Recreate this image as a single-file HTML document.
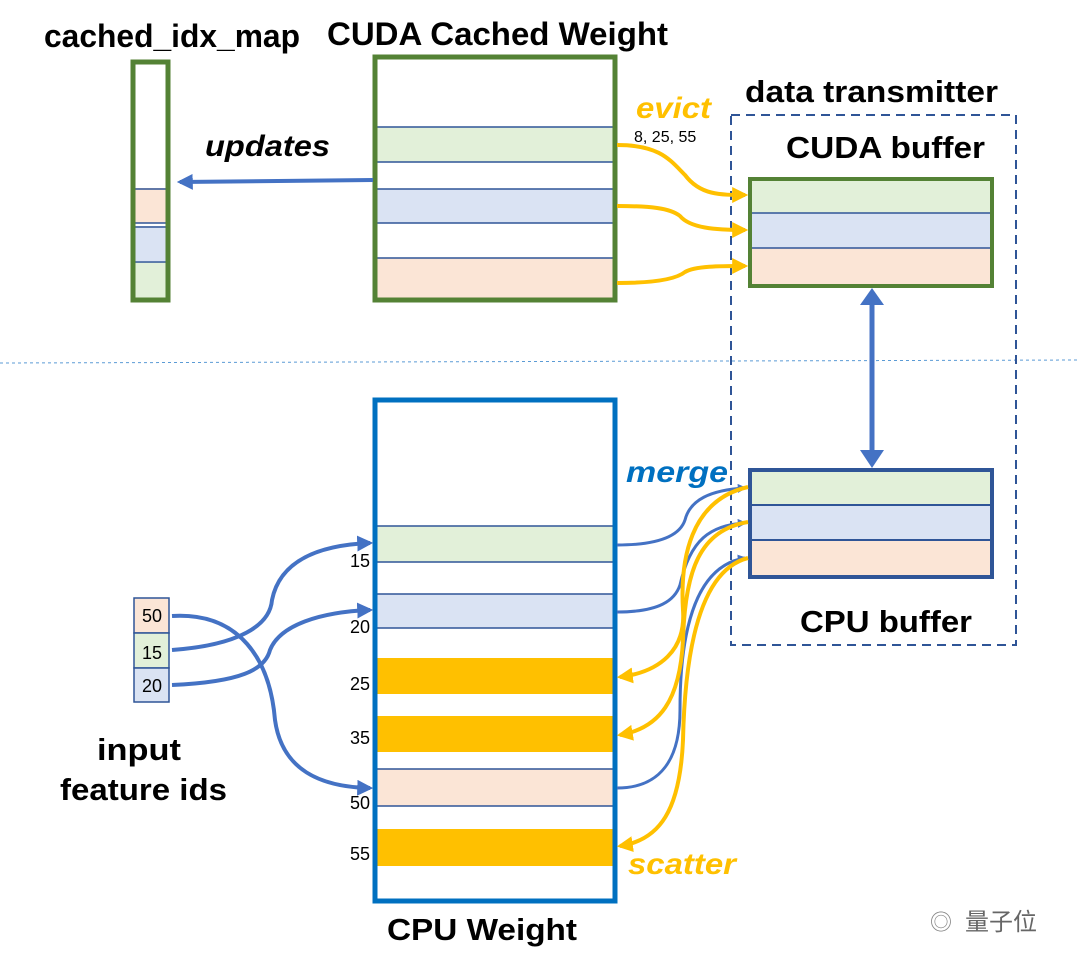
<!DOCTYPE html>
<html><head><meta charset="utf-8"><style>
html,body{margin:0;padding:0;background:#fff;}
svg{display:block;}
text{font-family:"Liberation Sans","Noto Sans CJK SC",sans-serif;}
</style></head><body>
<svg width="1080" height="970" viewBox="0 0 1080 970" xmlns="http://www.w3.org/2000/svg">
<defs>
<marker id="ab" viewBox="0 0 10 10" refX="8" refY="5" markerWidth="4" markerHeight="4" orient="auto"><path d="M0,0L10,5L0,10z" fill="#4472c4"/></marker>
<marker id="ay" viewBox="0 0 10 10" refX="8" refY="5" markerWidth="4" markerHeight="4" orient="auto"><path d="M0,0L10,5L0,10z" fill="#ffc000"/></marker>
<marker id="ab2" viewBox="0 0 10 10" refX="8" refY="5" markerWidth="3" markerHeight="3" orient="auto"><path d="M0,0L10,5L0,10z" fill="#4472c4"/></marker>
</defs>
<!-- titles -->
<text x="44" y="47" font-size="32" font-weight="bold" textLength="256" lengthAdjust="spacingAndGlyphs">cached_idx_map</text>
<text x="327" y="45" font-size="32" font-weight="bold" textLength="341" lengthAdjust="spacingAndGlyphs">CUDA Cached Weight</text>
<text x="745" y="102" font-size="31" font-weight="bold" textLength="253" lengthAdjust="spacingAndGlyphs">data transmitter</text>
<text x="786" y="158" font-size="31" font-weight="bold" textLength="199" lengthAdjust="spacingAndGlyphs">CUDA buffer</text>
<text x="800" y="632" font-size="31" font-weight="bold" textLength="172" lengthAdjust="spacingAndGlyphs">CPU buffer</text>
<text x="387" y="940" font-size="31" font-weight="bold" textLength="190" lengthAdjust="spacingAndGlyphs">CPU Weight</text>
<text x="97" y="760" font-size="31" font-weight="bold" textLength="84" lengthAdjust="spacingAndGlyphs">input</text>
<text x="60" y="800" font-size="31" font-weight="bold" textLength="167" lengthAdjust="spacingAndGlyphs">feature ids</text>
<text x="205" y="156" font-size="30" font-weight="bold" font-style="italic" textLength="125" lengthAdjust="spacingAndGlyphs">updates</text>
<text x="636" y="118" font-size="30" font-weight="bold" font-style="italic" fill="#ffc000" textLength="75" lengthAdjust="spacingAndGlyphs">evict</text>
<text x="634" y="142" font-size="16">8, 25, 55</text>
<text x="626" y="482" font-size="30" font-weight="bold" font-style="italic" fill="#0070c0" textLength="102" lengthAdjust="spacingAndGlyphs">merge</text>
<text x="628" y="874" font-size="30" font-weight="bold" font-style="italic" fill="#ffc000" textLength="108" lengthAdjust="spacingAndGlyphs">scatter</text>
<text x="965" y="930" font-size="24" fill="#666">量子位</text>
<text x="930" y="930" font-size="22" fill="#888">◎</text>

<!-- dotted separator -->
<line x1="0" y1="363" x2="1080" y2="360" stroke="#5b9bd5" stroke-width="1" stroke-dasharray="3,3"/>

<!-- cached_idx_map -->
<rect x="135" y="188" width="31" height="35" fill="#fbe5d6"/>
<rect x="135" y="226" width="31" height="35" fill="#dae3f3"/>
<rect x="135" y="262" width="31" height="36" fill="#e2f0d9"/>
<g stroke="#2f5597" stroke-width="1.5"><line x1="135" y1="189" x2="166" y2="189"/><line x1="135" y1="223" x2="166" y2="223"/><line x1="135" y1="227" x2="166" y2="227"/><line x1="135" y1="262" x2="166" y2="262"/></g>
<rect x="133" y="62" width="35" height="238" fill="none" stroke="#548235" stroke-width="5"/>

<!-- CUDA cached weight -->
<rect x="375" y="127" width="240" height="35" fill="#e2f0d9"/>
<rect x="375" y="189" width="240" height="34" fill="#dae3f3"/>
<rect x="375" y="258" width="240" height="40" fill="#fbe5d6"/>
<g stroke="#2f5597" stroke-width="1.5"><line x1="375" y1="127" x2="615" y2="127"/><line x1="375" y1="162" x2="615" y2="162"/><line x1="375" y1="189" x2="615" y2="189"/><line x1="375" y1="223" x2="615" y2="223"/><line x1="375" y1="258" x2="615" y2="258"/></g>
<rect x="375" y="57" width="240" height="243" fill="none" stroke="#548235" stroke-width="5"/>
<path d="M373,180 L180,182" stroke="#4472c4" stroke-width="4" fill="none" marker-end="url(#ab)"/>

<!-- dashed box -->
<rect x="731" y="115" width="285" height="530" fill="none" stroke="#2f5597" stroke-width="2" stroke-dasharray="9,6"/>

<!-- CUDA buffer -->
<rect x="751" y="180" width="240" height="33" fill="#e2f0d9"/>
<rect x="751" y="213" width="240" height="35" fill="#dae3f3"/>
<rect x="751" y="248" width="240" height="36" fill="#fbe5d6"/>
<g stroke="#2f5597" stroke-width="1.5"><line x1="751" y1="213" x2="991" y2="213"/><line x1="751" y1="248" x2="991" y2="248"/></g>
<rect x="750" y="179" width="242" height="107" fill="none" stroke="#548235" stroke-width="4"/>

<!-- CPU buffer -->
<rect x="751" y="471" width="240" height="34" fill="#e2f0d9"/>
<rect x="751" y="505" width="240" height="35" fill="#dae3f3"/>
<rect x="751" y="540" width="240" height="36" fill="#fbe5d6"/>
<g stroke="#2f5597" stroke-width="2"><line x1="751" y1="505" x2="991" y2="505"/><line x1="751" y1="540" x2="991" y2="540"/></g>
<rect x="750" y="470" width="242" height="107" fill="none" stroke="#2f5597" stroke-width="4"/>

<!-- double arrow -->
<line x1="872" y1="300" x2="872" y2="455" stroke="#4472c4" stroke-width="5"/>
<path d="M860,305 L872,288 L884,305z" fill="#4472c4"/>
<path d="M860,450 L872,468 L884,450z" fill="#4472c4"/>

<!-- evict arrows -->
<g stroke="#ffc000" stroke-width="4" fill="none" marker-end="url(#ay)">
<path d="M617,145 C660,145 670,160 685,175 C700,195 720,195 745,195"/>
<path d="M617,206 C650,206 670,208 680,216 C690,228 715,230 745,230"/>
<path d="M617,283 C650,283 675,280 685,272 C695,266 720,266 745,266"/>
</g>

<!-- CPU weight -->
<rect x="375" y="526" width="240" height="36" fill="#e2f0d9"/>
<rect x="375" y="594" width="240" height="34" fill="#dae3f3"/>
<rect x="375" y="658" width="240" height="36" fill="#ffc000"/>
<rect x="375" y="716" width="240" height="36" fill="#ffc000"/>
<rect x="375" y="769" width="240" height="37" fill="#fbe5d6"/>
<rect x="375" y="829" width="240" height="37" fill="#ffc000"/>
<g stroke="#2f5597" stroke-width="1.5"><line x1="375" y1="526" x2="615" y2="526"/><line x1="375" y1="562" x2="615" y2="562"/><line x1="375" y1="594" x2="615" y2="594"/><line x1="375" y1="628" x2="615" y2="628"/><line x1="375" y1="769" x2="615" y2="769"/><line x1="375" y1="806" x2="615" y2="806"/></g>
<rect x="375" y="400" width="240" height="501" fill="none" stroke="#0070c0" stroke-width="5"/>
<g font-size="18" text-anchor="end"><text x="370" y="567">15</text><text x="370" y="633">20</text><text x="370" y="690">25</text><text x="370" y="744">35</text><text x="370" y="809">50</text><text x="370" y="860">55</text></g>

<!-- input ids -->
<rect x="134" y="598" width="35" height="35" fill="#fbe5d6" stroke="#2f5597" stroke-width="1.5"/>
<rect x="134" y="633" width="35" height="35" fill="#e2f0d9" stroke="#2f5597" stroke-width="1.5"/>
<rect x="134" y="668" width="35" height="34" fill="#dae3f3" stroke="#2f5597" stroke-width="1.5"/>
<g font-size="18" text-anchor="middle"><text x="152" y="622">50</text><text x="152" y="659">15</text><text x="152" y="692">20</text></g>

<!-- input arrows -->
<g stroke="#4472c4" stroke-width="4" fill="none" marker-end="url(#ab)">
<path d="M172,650 C240,645 270,625 272,600 C280,560 320,545 370,543"/>
<path d="M172,685 C240,682 265,670 270,650 C280,625 320,612 370,610"/>
<path d="M172,616 C240,612 270,660 275,720 C282,770 320,787 370,788"/>
</g>

<!-- merge arrows (blue) -->
<g stroke="#4472c4" stroke-width="3" fill="none" marker-end="url(#ab2)">
<path d="M617,545 C660,545 680,535 685,520 C690,500 710,490 745,488"/>
<path d="M617,612 C660,612 675,600 680,585 C690,540 710,525 745,523"/>
<path d="M617,788 C660,788 680,760 680,710 C680,620 700,565 745,558"/>
</g>
<!-- scatter arrows (yellow) -->
<g stroke="#ffc000" stroke-width="4" fill="none" marker-end="url(#ay)">
<path d="M748,487 C690,500 680,560 683,610 C686,650 660,672 620,677"/>
<path d="M748,522 C700,530 685,570 683,640 C680,700 660,728 620,735"/>
<path d="M748,558 C700,570 685,650 683,740 C680,810 660,840 620,846"/>
</g>
</svg>
</body></html>
